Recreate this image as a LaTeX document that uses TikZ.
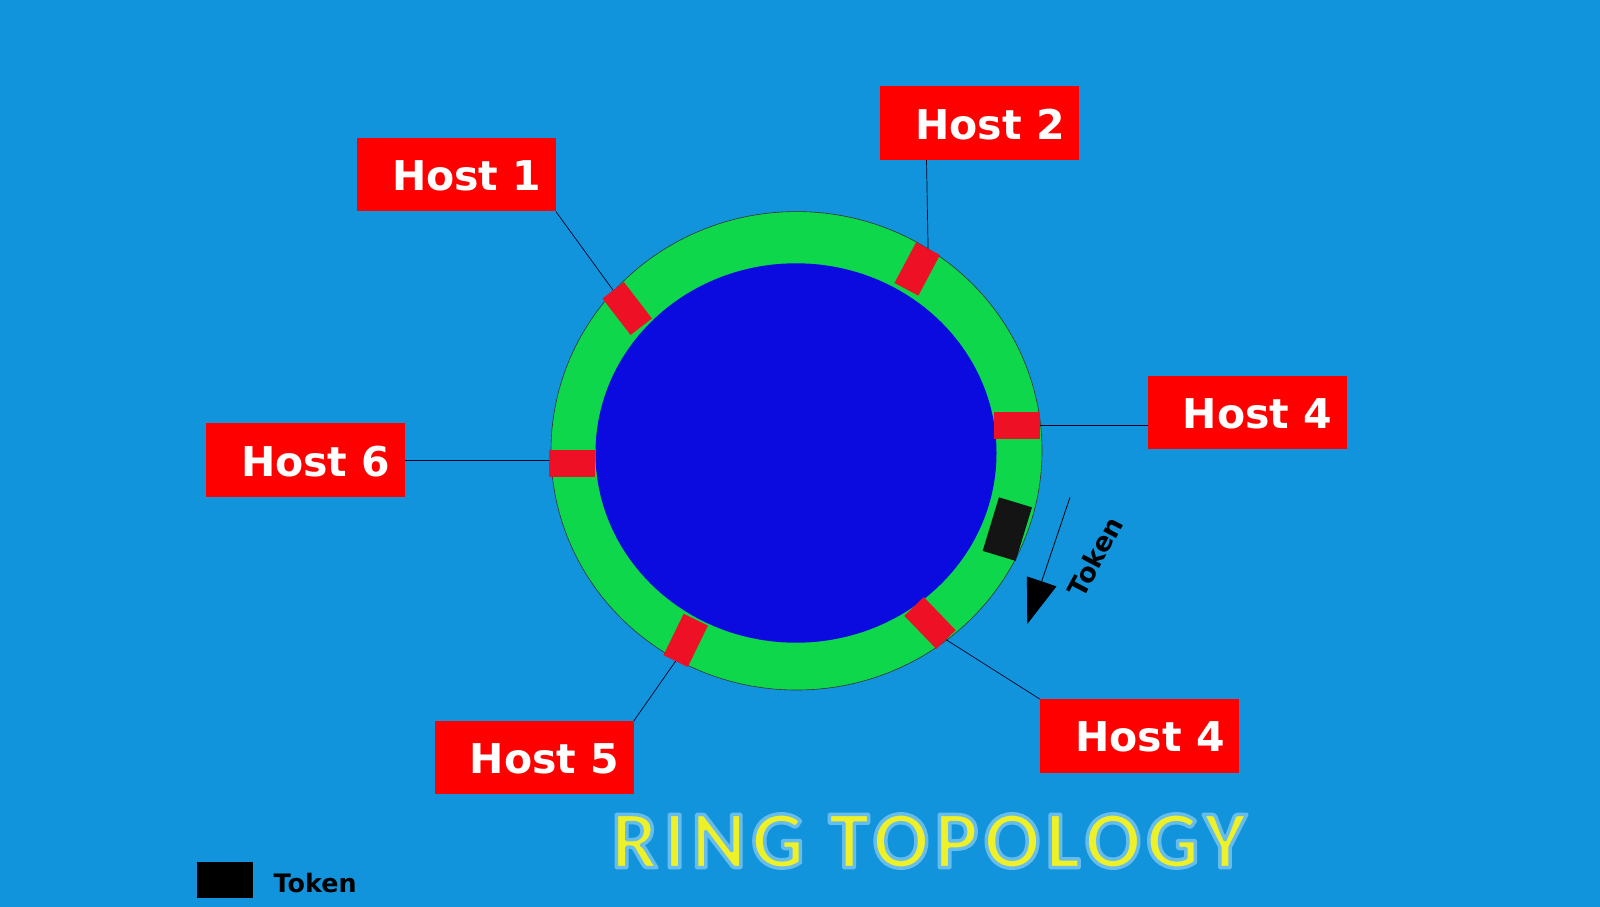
\documentclass[tikz,border=0pt]{standalone}
\usepackage{fontspec}
\setmainfont{DejaVu Sans}
\newfontfamily\hostfont{DejaVu Sans}[BoldFont={DejaVu Sans Bold}]
\newfontfamily\titlefont{Carlito}[BoldFont={Carlito Bold}, LetterSpace=7.4]
\usetikzlibrary{arrows.meta,calc}
\definecolor{bgblue}{RGB}{17,148,220}
\definecolor{ringgreen}{RGB}{15,215,75}
\definecolor{innerblue}{RGB}{11,11,224}
\definecolor{blockred}{RGB}{238,16,36}
\definecolor{boxred}{RGB}{255,0,0}
\definecolor{tokenblack}{RGB}{20,20,20}
\definecolor{titleyellow}{RGB}{238,240,40}
\tikzset{
  hostbox/.style={fill=boxred, draw=none, minimum width=199pt, minimum height=73.5pt, inner sep=0pt},
  hosttext/.style={text=white, font=\hostfont\bfseries\fontsize{41}{41}\selectfont, inner sep=0pt},
  ringblock/.style={fill=blockred, draw=none, minimum width=46pt, minimum height=27pt, inner sep=0pt},
  link/.style={draw=black!85!blue, line width=0.7pt},
  tokenlabel/.style={text=black, font=\hostfont\bfseries\fontsize{25.4}{25.4}\selectfont, inner sep=0pt},
  titletext/.style={font=\titlefont\bfseries\fontsize{82}{82}\selectfont, inner sep=0pt}
}
\begin{document}
\begin{tikzpicture}[x=1pt,y=-1pt]
\fill[bgblue] (0,0) rectangle (1600,907);
\useasboundingbox (0,0) rectangle (1600,907);

% ring
\path[fill=ringgreen, draw=black!80, line width=0.6pt] (796.5,450.8) ellipse [x radius=245.5, y radius=239.2];
\path[fill=innerblue] (796,453) ellipse [x radius=200.5, y radius=189.7];

% ring blocks
\node[ringblock, rotate=127.6] (bA) at (627.2,308.5) {};
\node[ringblock, rotate=62] (bB) at (917.2,269) {};
\node[ringblock, rotate=0] (bC) at (1016.7,425.2) {};
\node[ringblock, rotate=-46] (bD) at (930,623) {};
\node[ringblock, rotate=64] (bE) at (685.7,640.4) {};
\node[ringblock, rotate=0] (bF) at (571.7,463.7) {};

% token on ring
\node[fill=tokenblack, minimum width=34.5pt, minimum height=56pt, inner sep=0pt, rotate=-16.9] (tok) at (1007.3,529.1) {};

% host boxes
\node[hostbox] (h1) at (456.3,174.7) {};
\node[hostbox] (h2) at (979.5,123) {};
\node[hostbox] (h4a) at (1247.2,412.3) {};
\node[hostbox] (h6) at (305.3,460) {};
\node[hostbox] (h5) at (534.2,757.7) {};
\node[hostbox] (h4b) at (1139.5,736) {};

\node[hosttext] (t1) at (466.7,176) {Host 1};
\node[hosttext] (t2) at (989.9,124.3) {Host 2};
\node[hosttext] (t4a) at (1257.6,413.6) {Host 4};
\node[hosttext] (t6) at (315.7,461.3) {Host 6};
\node[hosttext] (t5) at (544.6,759) {Host 5};
\node[hosttext] (t4b) at (1149.9,737.3) {Host 4};

% links
\draw[link] (h1.south east) -- (bA.east);
\draw[link] ([xshift=46.7pt]h2.south west) -- (bB.east);
\draw[link] (bC.east) -- (bC.east -| h4a.west);
\draw[link] (h6.east) -- (h6.east -| bF.west);
\draw[link] (h5.north east) -- (bE.west);
\draw[link] (h4b.north west) -- (bD.east);

% token direction arrow
\coordinate (arrS) at (1070,497.3);
\coordinate (arrE) at (1027.3,624);
\draw[line width=0.8pt, -{Triangle[length=45pt,width=31pt]}] (arrS) -- (arrE);
\node[tokenlabel, font=\hostfont\bfseries\fontsize{26.5}{26.5}\selectfont, rotate=62] (toklab) at (1095,557) {Token};

% legend
\node[fill=black, minimum width=56pt, minimum height=35.4pt, inner sep=0pt] (leg) at (224.7,880) {};
\node[tokenlabel, anchor=west] (legt) at (273.5,883.3) {Token};

% title: yellow fill with light-blue stroke (text render mode 2)
\node[titletext, text=titleyellow] (title) at (929,841) {\special{pdf:literal direct 2 Tr 3.5 w 1 j 0.40 0.74 0.92 RG}RING TOPOLOGY};
\end{tikzpicture}
\end{document}
